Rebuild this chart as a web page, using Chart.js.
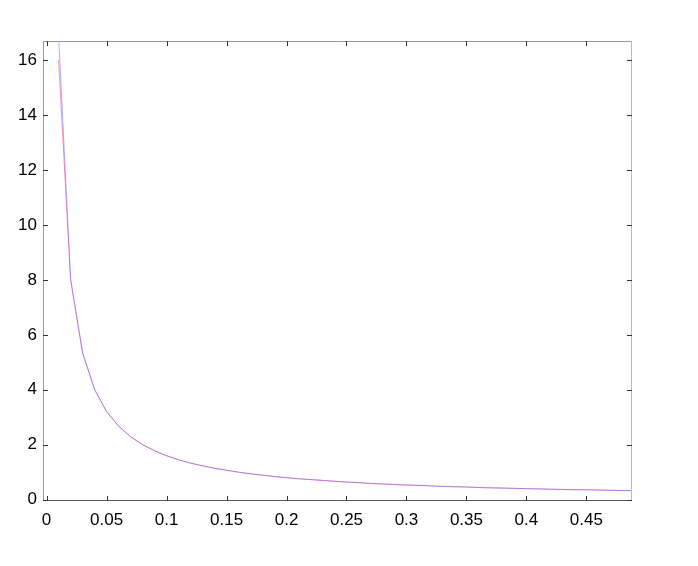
<!DOCTYPE html>
<html><head><meta charset="utf-8">
<script src="https://cdn.jsdelivr.net/npm/chart.js@4/dist/chart.umd.min.js"></script>
<style>html,body{margin:0;padding:0;background:#fff}#wrap{width:698px;height:566px}</style>
</head><body><div id="wrap"><canvas id="c" width="698" height="566"></canvas></div>
<script>
const xValues = [0.01,0.02,0.03,0.04,0.05,0.06,0.07,0.08,0.09,0.10,0.11,0.12,0.13,0.14,0.15,0.16,0.17,0.18,0.19,0.20,0.21,0.22,0.23,0.24,0.25,0.26,0.27,0.28,0.29,0.30,0.31,0.32,0.33,0.34,0.35,0.36,0.37,0.38,0.39,0.40,0.41,0.42,0.43,0.44,0.45,0.46,0.47,0.48,0.49];
const redValues = [16.0,8.0,5.33,4.0,3.2,2.67,2.29,2.0,1.78,1.6,1.45,1.33,1.23,1.14,1.07,1.0,0.94,0.89,0.84,0.8,0.76,0.73,0.70,0.67,0.64,0.62,0.59,0.57,0.55,0.53,0.52,0.50,0.48,0.47,0.46,0.44,0.43,0.42,0.41,0.40,0.39,0.38,0.37,0.36,0.36,0.35,0.34,0.33,0.33];
const blueValues = [16.9,8.05,5.36,4.02,3.21,2.68,2.29,2.0,1.78,1.6,1.45,1.33,1.23,1.14,1.07,1.0,0.94,0.89,0.84,0.8,0.76,0.73,0.70,0.67,0.64,0.62,0.59,0.57,0.55,0.53,0.52,0.50,0.48,0.47,0.46,0.44,0.43,0.42,0.41,0.40,0.39,0.38,0.37,0.36,0.36,0.35,0.34,0.33,0.33];
const xTicks = [0,0.05,0.1,0.15,0.2,0.25,0.3,0.35,0.4,0.45];
const yTicks = [0,2,4,6,8,10,12,14,16];

const toPts = (ys) => xValues.map((x,i)=>({x:x,y:ys[i]}));

const frame = {
  id:'frame',
  afterDraw(chart){
    const {ctx, chartArea:a, scales:{x,y}} = chart;
    ctx.save();
    ctx.lineWidth = 1;
    ctx.strokeStyle = '#999'; ctx.beginPath(); ctx.moveTo(a.left+0.5,a.bottom); ctx.lineTo(a.left+0.5,a.top+0.5); ctx.lineTo(a.right,a.top+0.5); ctx.stroke();
    ctx.strokeStyle = '#bbb'; ctx.beginPath(); ctx.moveTo(a.right-0.5,a.top); ctx.lineTo(a.right-0.5,a.bottom); ctx.stroke();
    ctx.strokeStyle = '#555'; ctx.beginPath(); ctx.moveTo(a.left,a.bottom-0.5); ctx.lineTo(a.right,a.bottom-0.5); ctx.stroke();
    ctx.strokeStyle = '#333';
    x.ticks.forEach(t=>{const px=Math.round(x.getPixelForValue(t.value))+0.5;
      ctx.beginPath(); ctx.moveTo(px,a.bottom); ctx.lineTo(px,a.bottom-5); ctx.stroke();
      ctx.beginPath(); ctx.moveTo(px,a.top); ctx.lineTo(px,a.top+5); ctx.stroke();});
    y.ticks.forEach(t=>{const py=Math.round(y.getPixelForValue(t.value))+0.5;
      ctx.beginPath(); ctx.moveTo(a.left,py); ctx.lineTo(a.left+5,py); ctx.stroke();
      ctx.beginPath(); ctx.moveTo(a.right,py); ctx.lineTo(a.right-5,py); ctx.stroke();});
    ctx.restore();
  }
};

new Chart(document.getElementById('c'), {
  type:'line',
  data:{datasets:[
    {data:toPts(blueValues), borderColor:'rgba(100,100,255,0.5)', borderWidth:1, pointRadius:0, tension:0, fill:false},
    {data:toPts(redValues), borderColor:'rgba(255,40,120,0.5)', borderWidth:1, pointRadius:0, tension:0, fill:false}
  ]},
  options:{
    responsive:false, animation:false,
    layout:{padding:{top:41,right:66,left:0,bottom:0}},
    plugins:{legend:{display:false}, tooltip:{enabled:false}},
    scales:{
      x:{type:'linear', min:-0.003, max:0.488,
        afterBuildTicks(s){s.ticks = xTicks.map(v=>({value:v}));},
        afterFit(s){s.height = 65;},
        grid:{display:false, drawTicks:false}, border:{display:false},
        ticks:{padding:9, color:'#000', font:{family:'Liberation Sans, Arial', size:17}, maxRotation:0, autoSkip:false, callback:(v)=>String(v)}},
      y:{type:'linear', min:-0.05, max:16.7,
        afterBuildTicks(s){s.ticks = yTicks.map(v=>({value:v}));},
        afterFit(s){s.width = 43;},
        grid:{display:false, drawTicks:false}, border:{display:false},
        ticks:{padding:6, color:'#000', font:{family:'Liberation Sans, Arial', size:17}, autoSkip:false, callback:(v)=>String(v)}}
    }
  },
  plugins:[frame]
});
</script></body></html>
